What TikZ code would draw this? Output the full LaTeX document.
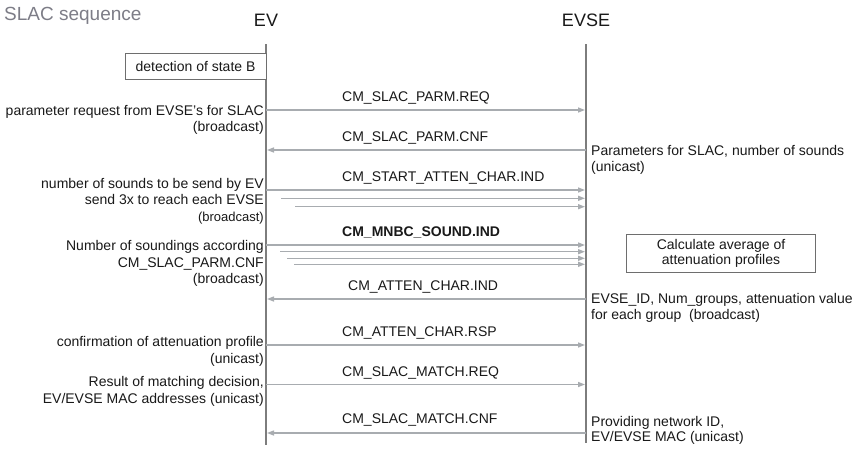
\documentclass[tikz,border=0pt]{standalone}
\usepackage{fontspec}
\setmainfont{Liberation Sans}
\usetikzlibrary{arrows.meta}
\definecolor{lifegray}{RGB}{125,125,125}
\definecolor{msggray}{RGB}{168,172,176}
\definecolor{boxgray}{RGB}{110,110,110}
\definecolor{txt}{RGB}{25,25,25}
\definecolor{titlegray}{RGB}{125,125,135}
\tikzset{
  life/.style={draw=lifegray, line width=1.4pt},
  msg/.style={draw=msggray, line width=1.3pt, -{Triangle[length=7pt,width=5pt]}},
  msglabel/.style={anchor=base west, inner sep=0pt, text=txt, font=\fontsize{14}{16}\selectfont},
  lefttext/.style={anchor=base east, inner sep=0pt, align=right, text=txt, font=\fontsize{14}{16.5}\selectfont},
  righttext/.style={anchor=base west, inner sep=0pt, align=left, text=txt, font=\fontsize{14}{15.5}\selectfont},
  header/.style={anchor=base, inner sep=0pt, text=txt, font=\fontsize{18}{20}\selectfont},
  notebox/.style={draw=boxgray, line width=1pt, fill=white, text=txt, font=\fontsize{14}{15.5}\selectfont, align=center, inner sep=0pt}
}
\begin{document}
\begin{tikzpicture}[x=1pt,y=-1pt]
\useasboundingbox (0,0) rectangle (865,450);
\fill[white] (0,0) rectangle (865,450);

% title and headers
\node[anchor=base west, inner sep=0pt, text=titlegray, font=\fontsize{19}{21}\selectfont] (title) at (4,20.5) {SLAC sequence};
\node[header] (evh) at (266,26.5) {EV};
\node[header] (evseh) at (586,26.5) {EVSE};

% lifelines
\coordinate (evtop) at (266,44);
\coordinate (evbot) at (266,445);
\coordinate (evsetop) at (586,44);
\coordinate (evsebot) at (586,443);
\draw[life] (evtop) -- (evbot);
\draw[life] (evsetop) -- (evsebot);

% detection box
\node[notebox, minimum width=141pt, minimum height=26pt] (det) at (195.5,66.3) {detection of state B};

% message 1
\coordinate (a1) at (266,110); \coordinate (b1) at (585,110);
\draw[msg] (a1) -- (b1);
\node[msglabel] (l1) at (342,101.5) {CM\_SLAC\_PARM.REQ};
% message 2
\coordinate (a2) at (586,150); \coordinate (b2) at (267,150);
\draw[msg] (a2) -- (b2);
\node[msglabel] (l2) at (342,141.7) {CM\_SLAC\_PARM.CNF};
% message 3
\coordinate (a3a) at (266,190); \coordinate (b3a) at (585,190);
\coordinate (a3b) at (281,198.3); \coordinate (b3b) at (585,198.3);
\coordinate (a3c) at (295,206.7); \coordinate (b3c) at (585,206.7);
\draw[msg] (a3a) -- (b3a);
\draw[msg] (a3b) -- (b3b);
\draw[msg] (a3c) -- (b3c);
\node[msglabel] (l3) at (342,181.7) {CM\_START\_ATTEN\_CHAR.IND};
% message 4
\coordinate (a4a) at (266,245); \coordinate (b4a) at (585,245);
\coordinate (a4b) at (280,251.7); \coordinate (b4b) at (585,251.7);
\coordinate (a4c) at (287,258.3); \coordinate (b4c) at (585,258.3);
\coordinate (a4d) at (294,264.3); \coordinate (b4d) at (585,264.3);
\draw[msg] (a4a) -- (b4a);
\draw[msg] (a4b) -- (b4b);
\draw[msg] (a4c) -- (b4c);
\draw[msg] (a4d) -- (b4d);
\node[msglabel, font=\fontsize{14}{16}\selectfont\bfseries] (l4) at (342,236.7) {CM\_MNBC\_SOUND.IND};
% message 5
\coordinate (a5) at (586,299); \coordinate (b5) at (267,299);
\draw[msg] (a5) -- (b5);
\node[msglabel] (l5) at (348,290) {CM\_ATTEN\_CHAR.IND};
% message 6
\coordinate (a6) at (266,345); \coordinate (b6) at (585,345);
\draw[msg] (a6) -- (b6);
\node[msglabel] (l6) at (342,336.7) {CM\_ATTEN\_CHAR.RSP};
% message 7
\coordinate (a7) at (266,384.5); \coordinate (b7) at (585,384.5);
\draw[msg] (a7) -- (b7);
\node[msglabel] (l7) at (342,376.7) {CM\_SLAC\_MATCH.REQ};
% message 8
\coordinate (a8) at (586,433); \coordinate (b8) at (267,433);
\draw[msg] (a8) -- (b8);
\node[msglabel] (l8) at (342,423.3) {CM\_SLAC\_MATCH.CNF};

% left texts (anchored at the baseline of the last line)
\node[lefttext] (t1) at (264,131.5) {parameter request from EVSE's for SLAC\\(broadcast)};
\node[lefttext] (t2) at (264,221) {number of sounds to be send by EV\\send 3x to reach each EVSE\\\fontsize{13}{16.5}\selectfont(broadcast)};
\node[lefttext] (t3) at (264,283.5) {Number of soundings according\\CM\_SLAC\_PARM.CNF\\(broadcast)};
\node[lefttext] (t4) at (264,363) {confirmation of attenuation profile\\(unicast)};
\node[lefttext] (t5) at (264,403.3) {Result of matching decision,\\EV/EVSE MAC addresses (unicast)};

% right texts (anchored at the baseline of the last line)
\node[righttext] (r1) at (591,171) {Parameters for SLAC, number of sounds\\(unicast)};
\node[righttext] (r2) at (591,319) {EVSE\_ID, Num\_groups, attenuation value\\for each group\ \ (broadcast)};
\node[righttext] (r3) at (591,441.7) {Providing network ID,\\EV/EVSE MAC (unicast)};

% calculate box
\node[notebox, minimum width=189pt, minimum height=38pt] (calc) at (721,253.2) {Calculate average of\\attenuation profiles};
\end{tikzpicture}
\end{document}
